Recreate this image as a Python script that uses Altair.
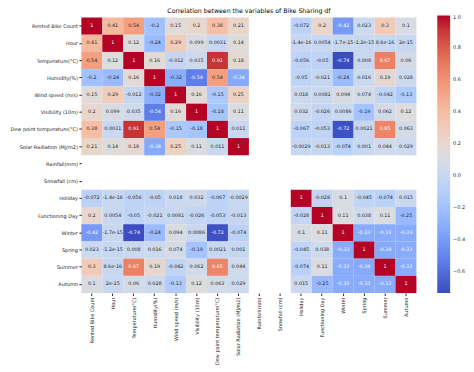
import altair as alt
import pandas as pd
import numpy as np

variables = [
    "Rented Bike Count", "Hour", "Temperature(°C)", "Humidity(%)",
    "Wind speed (m/s)", "Visibility (10m)", "Dew point temperature(°C)",
    "Solar Radiation (MJ/m2)", "Rainfall(mm)", "Snowfall (cm)", "Holiday",
    "Functioning Day", "Winter", "Spring", "Summer", "Autumn",
]
N = None
row_rented = [1, 0.41, 0.54, -0.2, 0.15, 0.2, 0.38, 0.21, N, N, -0.072, 0.2, -0.42, 0.023, 0.3, 0.1]
row_hour = [0.41, 1, 0.12, -0.24, 0.29, 0.099, 0.0031, 0.14, N, N, -1.4e-16, 0.0054, -1.7e-15, -1.2e-15, 8.6e-16, 2e-15]
row_temp = [0.54, 0.12, 1, 0.16, -0.012, 0.035, 0.91, 0.18, N, N, -0.056, -0.05, -0.74, 0.008, 0.67, 0.06]
row_humid = [-0.2, -0.24, 0.16, 1, -0.32, -0.54, 0.54, -0.34, N, N, -0.05, -0.021, -0.24, 0.016, 0.19, 0.028]
row_wind = [0.15, 0.29, -0.012, -0.32, 1, 0.16, -0.15, 0.25, N, N, 0.018, 0.0081, 0.094, 0.074, -0.042, -0.13]
row_vis = [0.2, 0.099, 0.035, -0.54, 0.16, 1, -0.18, 0.11, N, N, 0.032, -0.026, 0.0086, -0.19, 0.062, 0.12]
row_dew = [0.38, 0.0031, 0.91, 0.54, -0.15, -0.18, 1, 0.011, N, N, -0.067, -0.053, -0.72, 0.0021, 0.65, 0.063]
row_solar = [0.21, 0.14, 0.18, -0.34, 0.25, 0.11, 0.011, 1, N, N, -0.0029, -0.013, -0.074, 0.001, 0.044, 0.029]
row_rain = [N] * 16
row_snow = [N] * 16
row_holiday = [-0.072, -1.4e-16, -0.056, -0.05, 0.018, 0.032, -0.067, -0.0029, N, N, 1, -0.028, 0.1, -0.045, -0.074, 0.015]
row_func = [0.2, 0.0054, -0.05, -0.021, 0.0081, -0.026, -0.053, -0.013, N, N, -0.028, 1, 0.11, 0.038, 0.11, -0.25]
row_winter = [-0.42, -1.7e-15, -0.74, -0.24, 0.094, 0.0086, -0.72, -0.074, N, N, 0.1, 0.11, 1, -0.33, -0.33, -0.33]
row_spring = [0.023, -1.2e-15, 0.008, 0.016, 0.074, -0.19, 0.0021, 0.001, N, N, -0.045, 0.038, -0.33, 1, -0.34, -0.33]
row_summer = [0.3, 8.6e-16, 0.67, 0.19, -0.042, 0.062, 0.65, 0.044, N, N, -0.074, 0.11, -0.33, -0.34, 1, -0.33]
row_autumn = [0.1, 2e-15, 0.06, 0.028, -0.13, 0.12, 0.063, 0.029, N, N, 0.015, -0.25, -0.33, -0.33, -0.33, 1]

matrix = [row_rented, row_hour, row_temp, row_humid, row_wind, row_vis, row_dew,
          row_solar, row_rain, row_snow, row_holiday, row_func, row_winter,
          row_spring, row_summer, row_autumn]

records = []
for i, rv in enumerate(variables):
    for j, cv in enumerate(variables):
        v = matrix[i][j]
        if v is None:
            continue
        records.append({"row": rv, "col": cv, "value": v, "label": format(v, ".2g")})
df = pd.DataFrame(records)

vmin = float(df["value"].min())
vmax = 1.0
coolwarm = ["#3b4cc0", "#4d68d7", "#6282ea", "#779af7", "#8db0fe", "#a3c2ff",
            "#b8d0f9", "#ccd9ee", "#dddddd", "#ecd3c5", "#f5c4ac", "#f7b193",
            "#f49a7b", "#ec7f63", "#de604d", "#cb3e38", "#b40426"]
stops = [float(s) for s in np.linspace(vmin, vmax, len(coolwarm))]

FONT = "DejaVu Sans"
LBL = 5.0
W, H = 338, 278

x = alt.X("col:N", sort=variables,
          scale=alt.Scale(domain=variables, paddingInner=0, paddingOuter=0),
          axis=alt.Axis(title=None, labelAngle=270, labelFontSize=LBL, labelFont=FONT,
                        labelColor="#262626", tickSize=2.5, tickColor="#262626",
                        domain=False, grid=False, labelPadding=1.5, labelLimit=200))
y = alt.Y("row:N", sort=variables,
          scale=alt.Scale(domain=variables, paddingInner=0, paddingOuter=0),
          axis=alt.Axis(title=None, labelFontSize=LBL, labelFont=FONT,
                        labelColor="#262626", tickSize=2.5, tickColor="#262626",
                        domain=False, grid=False, labelPadding=1.5, labelLimit=200))

rect = alt.Chart(df).mark_rect().encode(
    x=x, y=y,
    color=alt.Color("value:Q",
                    scale=alt.Scale(domain=stops, range=coolwarm, interpolate="rgb"),
                    legend=alt.Legend(title=None, orient="none", legendX=W + 21, legendY=-2,
                                      direction="vertical", gradientLength=H + 2,
                                      gradientThickness=13, labelFontSize=LBL, labelFont=FONT,
                                      labelColor="#262626", labelOffset=3,
                                      values=[-0.6, -0.4, -0.2, 0.0, 0.2, 0.4, 0.6, 0.8, 1.0],
                                      format=".1f", gradientStrokeWidth=0)),
)
text = alt.Chart(df).mark_text(fontSize=4.9, font=FONT).encode(
    x=x, y=y,
    text="label:N",
    color=alt.condition("datum.value >= 0.6 || datum.value <= -0.325",
                        alt.value("white"), alt.value("#262626")),
)

chart = (rect + text).properties(
    width=W, height=H,
    title=alt.TitleParams("Correlation between the variables of Bike Sharing df",
                          fontSize=6.3, font=FONT, fontWeight="normal", color="black",
                          anchor="middle", offset=1.5),
    autosize=alt.AutoSizeParams(type="none"),
    padding={"left": 74, "top": 8, "right": 50, "bottom": 76},
).configure_view(stroke=None)

chart.save("out.html", embed_options={"renderer": "svg", "actions": False})
